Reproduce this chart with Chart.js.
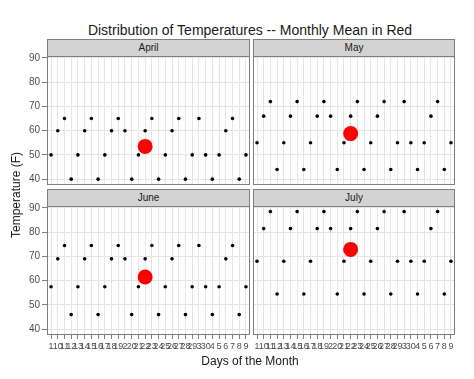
<!DOCTYPE html>
<html><head><meta charset="utf-8">
<script src="https://cdn.jsdelivr.net/npm/chart.js@4/dist/chart.umd.min.js"></script>
<style>
html,body{margin:0;padding:0;background:#fff;}
#wrap{position:relative;width:474px;height:379px;overflow:hidden;font-family:"Liberation Sans",Arial,sans-serif;background:#fff;}
canvas{position:absolute;}
.strip{position:absolute;box-sizing:border-box;background:#d3d3d3;border:1px solid #7f7f7f;font-size:10px;color:#1a1a1a;text-align:center;}
.txt{position:absolute;white-space:nowrap;color:#1a1a1a;}
</style>
</head><body>
<div id="wrap">
  <div class="txt" style="left:0;width:500px;top:22px;text-align:center;font-size:14px;line-height:16px;">Distribution of Temperatures -- Monthly Mean in Red</div>
  <div class="strip" id="s0" style="left:47px;top:39px;width:203px;height:18px;line-height:16px;"></div>
  <div class="strip" id="s1" style="left:253px;top:39px;width:202px;height:18px;line-height:16px;"></div>
  <div class="strip" id="s2" style="left:47px;top:189px;width:203px;height:18px;line-height:16px;"></div>
  <div class="strip" id="s3" style="left:253px;top:189px;width:202px;height:18px;line-height:16px;"></div>
  <canvas id="c0" width="253" height="139" style="left:0;top:46px;"></canvas>
  <canvas id="c1" width="231" height="139" style="left:243px;top:46px;"></canvas>
  <canvas id="c2" width="253" height="183" style="left:0;top:196px;"></canvas>
  <canvas id="c3" width="231" height="183" style="left:243px;top:196px;"></canvas>
  <div class="txt" style="left:16px;top:195px;transform:translate(-50%,-50%) rotate(-90deg);font-size:12px;line-height:14px;">Temperature (F)</div>
  <div class="txt" style="left:0;width:500px;top:354px;text-align:center;font-size:12px;line-height:14px;">Days of the Month</div>
</div>
<script>
// ---- data (x categories are in the chart's alphabetical factor order) ----
const dayLabels = ['1','10','11','12','13','14','15','16','17','18','19','2','20','21','22','23','24','25','26','27','28','29','3','30','4','5','6','7','8','9'];
const months = ['April','May','June','July'];
const aprilTemps = [50,60,65,40,50,60,65,40,50,60,65,60,40,50,60,65,40,50,60,65,40,50,65,50,40,50,60,65,40,50];
const mayTemps   = [55,66,72,44,55,66,72,44,55,66,72,66,44,55,66,72,44,55,66,72,44,55,72,55,44,55,66,72,44,55];
const juneTemps  = [57.5,69,74.5,46,57.5,69,74.5,46,57.5,69,74.5,69,46,57.5,69,74.5,46,57.5,69,74.5,46,57.5,74.5,57.5,46,57.5,69,74.5,46,57.5];
const julyTemps  = [68,81.5,88.5,54.5,68,81.5,88.5,54.5,68,81.5,88.5,81.5,54.5,68,81.5,88.5,54.5,68,81.5,88.5,54.5,68,88.5,68,54.5,68,81.5,88.5,54.5,68];
const monthlyMeans = [53.5, 58.8, 61.5, 72.9];
const meanDayLabel = '22';
const yTicks = [40,50,60,70,80,90];
const yMin = 37.58, yMax = 90.82;

const monthTemps = [aprilTemps, mayTemps, juneTemps, julyTemps];

const panelBorder = {
  id: 'panelBorder',
  afterDraw(chart) {
    const {ctx, chartArea: a} = chart;
    ctx.save();
    ctx.strokeStyle = '#7f7f7f';
    ctx.lineWidth = 1;
    ctx.strokeRect(Math.round(a.left) + 0.5, Math.round(a.top) + 0.5, Math.round(a.right - a.left) - 1, Math.round(a.bottom - a.top) - 1);
    ctx.restore();
  }
};

const FONT = '"Liberation Sans", Arial, sans-serif';

function zeroPad(s) { s.paddingTop = 0; s.paddingBottom = 0; s.paddingLeft = 0; s.paddingRight = 0; }

function makePanel(idx) {
  const isLeft = idx % 2 === 0;
  const isBottom = idx >= 2;
  const temps = monthTemps[idx];
  document.getElementById('s' + idx).textContent = months[idx];
  const canvas = document.getElementById('c' + idx);
  new Chart(canvas, {
    type: 'scatter',
    data: {
      datasets: [
        {
          data: [{x: dayLabels.indexOf(meanDayLabel), y: monthlyMeans[idx]}],
          backgroundColor: '#ff0000', borderColor: '#ff0000', pointRadius: 7.5, borderWidth: 0
        },
        {
          data: temps.map((t, i) => ({x: i, y: t})),
          backgroundColor: '#000000', borderColor: '#000000', pointRadius: 1.8, borderWidth: 0
        }
      ]
    },
    options: {
      responsive: false,
      animation: false,
      events: [],
      layout: {autoPadding: false, padding: {left: 0, top: 10, bottom: 0, right: isLeft ? 3 : 19}},
      plugins: {legend: {display: false}, tooltip: {enabled: false}, title: {display: false}},
      scales: {
        x: {
          type: 'linear',
          min: -0.6, max: dayLabels.length - 1 + 0.6,
          afterBuildTicks: s => { s.ticks = dayLabels.map((_, i) => ({value: i})); },
          afterFit: s => { s.height = isBottom ? 44 : 0; zeroPad(s); },
          border: {display: false},
          grid: {color: '#e5e5e5', lineWidth: 1, drawTicks: isBottom, tickLength: 4, tickColor: '#7f7f7f'},
          ticks: {
            display: isBottom, autoSkip: false, maxRotation: 0, minRotation: 0, padding: 2,
            color: '#4d4d4d', font: {family: FONT, size: 9},
            callback: v => dayLabels[v] ?? ''
          }
        },
        y: {
          type: 'linear',
          min: yMin, max: yMax,
          afterBuildTicks: s => { s.ticks = yTicks.map(v => ({value: v})); },
          afterFit: s => { s.width = isLeft ? 47 : 10; zeroPad(s); },
          border: {display: false},
          grid: {color: '#e5e5e5', lineWidth: 1, drawTicks: isLeft, tickLength: 5, tickColor: '#7f7f7f'},
          ticks: {
            display: isLeft, padding: 2,
            color: '#4d4d4d', font: {family: FONT, size: 10}
          }
        }
      }
    },
    plugins: [panelBorder]
  });
}

[0, 1, 2, 3].forEach(makePanel);
</script>
</body></html>
